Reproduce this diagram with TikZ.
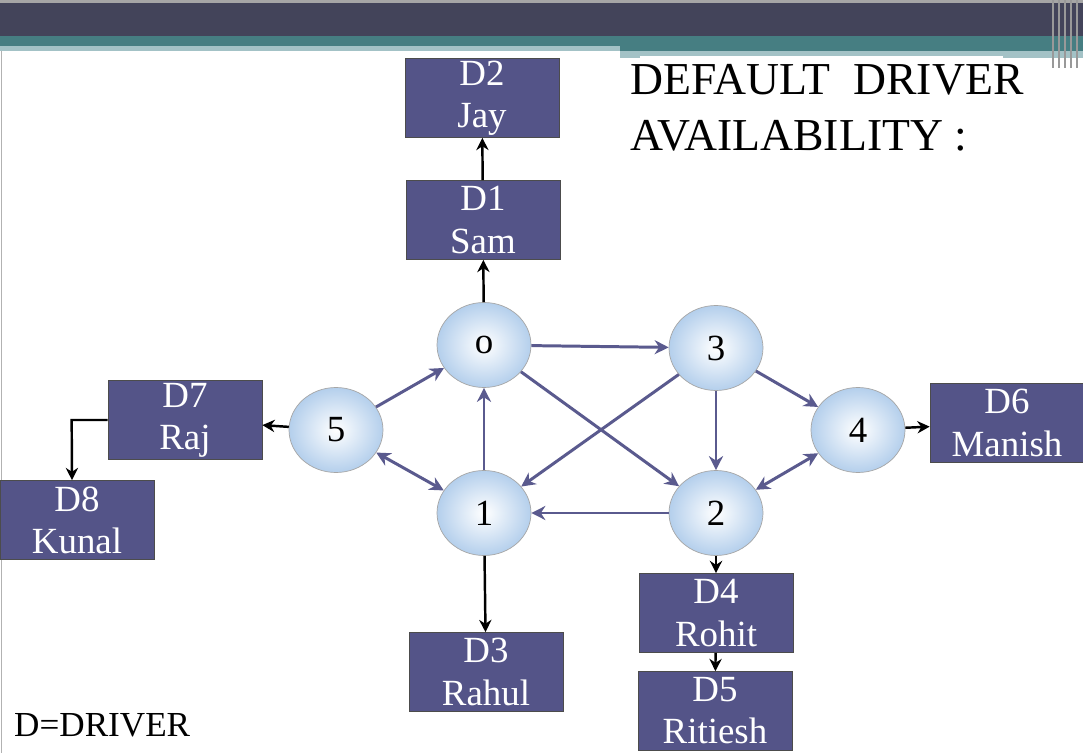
\documentclass[tikz,border=0pt]{standalone}
\usepackage{fontspec}
\setmainfont{Liberation Serif}
\usetikzlibrary{shapes.geometric,arrows.meta}
\definecolor{boxblue}{HTML}{545488}
\definecolor{edgeblue}{HTML}{5A5A8E}
\definecolor{stopblue}{HTML}{B4CFEC}
\definecolor{bannerdark}{HTML}{43445A}
\definecolor{bannerteal}{HTML}{467E82}
\definecolor{bannerlight}{HTML}{A3C2C6}
\tikzset{
  driver/.style={draw=black!70, fill=boxblue, text=white, minimum width=3.08cm, minimum height=1.58cm, align=center, font=\fontsize{21}{24}\selectfont, inner sep=0pt},
  stop/.style={ellipse, draw=black!35, inner color=white, outer color=stopblue, minimum width=1.88cm, minimum height=1.7cm, font=\fontsize{21}{22}\selectfont},
  link/.style={-{Stealth[length=8pt,width=8pt]}, edgeblue, line width=1.7pt},
  both/.style={{Stealth[length=8pt,width=8pt]}-{Stealth[length=8pt,width=8pt]}, edgeblue, line width=1.7pt},
  assign/.style={-{Stealth[length=7pt,width=7pt]}, black, line width=1.4pt}
}
\begin{document}
\begin{tikzpicture}[x=0.02cm, y=-0.02cm]
    % slide
    \useasboundingbox (0,0) rectangle (1083,753);
    \fill[white] (0,0) rectangle (1083,753);
    \draw[black!30] (1,0) -- (1,753);

    % banner
    \fill[black!35] (0,0) rectangle (1083,3);
    \fill[bannerdark] (0,3) rectangle (1083,36);
    \fill[bannerteal] (0,36) rectangle (1083,46);
    \fill[bannerlight] (0,46) rectangle (640,51);
    \fill[bannerteal] (620,46) rectangle (1083,51);
    \fill[bannerlight] (620,51) rectangle (1083,58);
    \fill[white] (640,56) rectangle (1003,59);
    \foreach \x in {1052,1058,1064,1070,1076} {
        \fill[black!40] (\x,0) rectangle (\x+2,68);
    }

    % title
    \node[anchor=north west, align=left, font=\fontsize{26}{32}\selectfont] (title) at (624,58) {DEFAULT\ \ DRIVER\\AVAILABILITY :};
    \node[anchor=west, font=\fontsize{20}{22}\selectfont] (legend) at (8,725) {D=DRIVER};

    % stops
    \node[stop] (s0) at (484,345) {o};
    \node[stop] (s3) at (716,348) {3};
    \node[stop] (s5) at (336,430) {5};
    \node[stop] (s1) at (484,513) {1};
    \node[stop] (s2) at (716,513) {2};
    \node[stop] (s4) at (858,430) {4};

    % drivers
    \node[driver] (jay) at (482,98) {D2\\Jay};
    \node[driver] (sam) at (483,220) {D1\\Sam};
    \node[driver] (raj) at (185,420) {D7\\Raj};
    \node[driver] (kunal) at (77,520) {D8\\Kunal};
    \node[driver] (manish) at (1007,423) {D6\\Manish};
    \node[driver] (rahul) at (486,672) {D3\\Rahul};
    \node[driver] (rohit) at (716,613) {D4\\Rohit};
    \node[driver] (ritiesh) at (715,711) {D5\\Ritiesh};

    % routes
    \draw[link] (s5) -- (s0);
    \draw[link] (s0) -- (s3);
    \draw[link] (s0) -- (s2);
    \draw[link] (s3) -- (s4);
    \draw[link] (s3) -- (s1);
    \draw[link] (s3) -- (s2);
    \draw[link] (s1) -- (s0);
    \draw[link] (s2) -- (s1);
    \draw[both] (s5) -- (s1);
    \draw[both] (s2) -- (s4);

    % assignments
    \draw[assign] (s0) -- (sam);
    \draw[assign] (sam) -- (jay);
    \draw[assign] (s5) -- (raj);
    \draw[assign] (s4) -- (manish);
    \draw[assign] (s1) -- (rahul);
    \draw[assign] (s2) -- (rohit);
    \draw[assign] (rohit) -- (ritiesh);
    \draw[assign] (raj.west) -- ++(-36,0) -- (kunal.north -| 72,0);
\end{tikzpicture}
\end{document}
